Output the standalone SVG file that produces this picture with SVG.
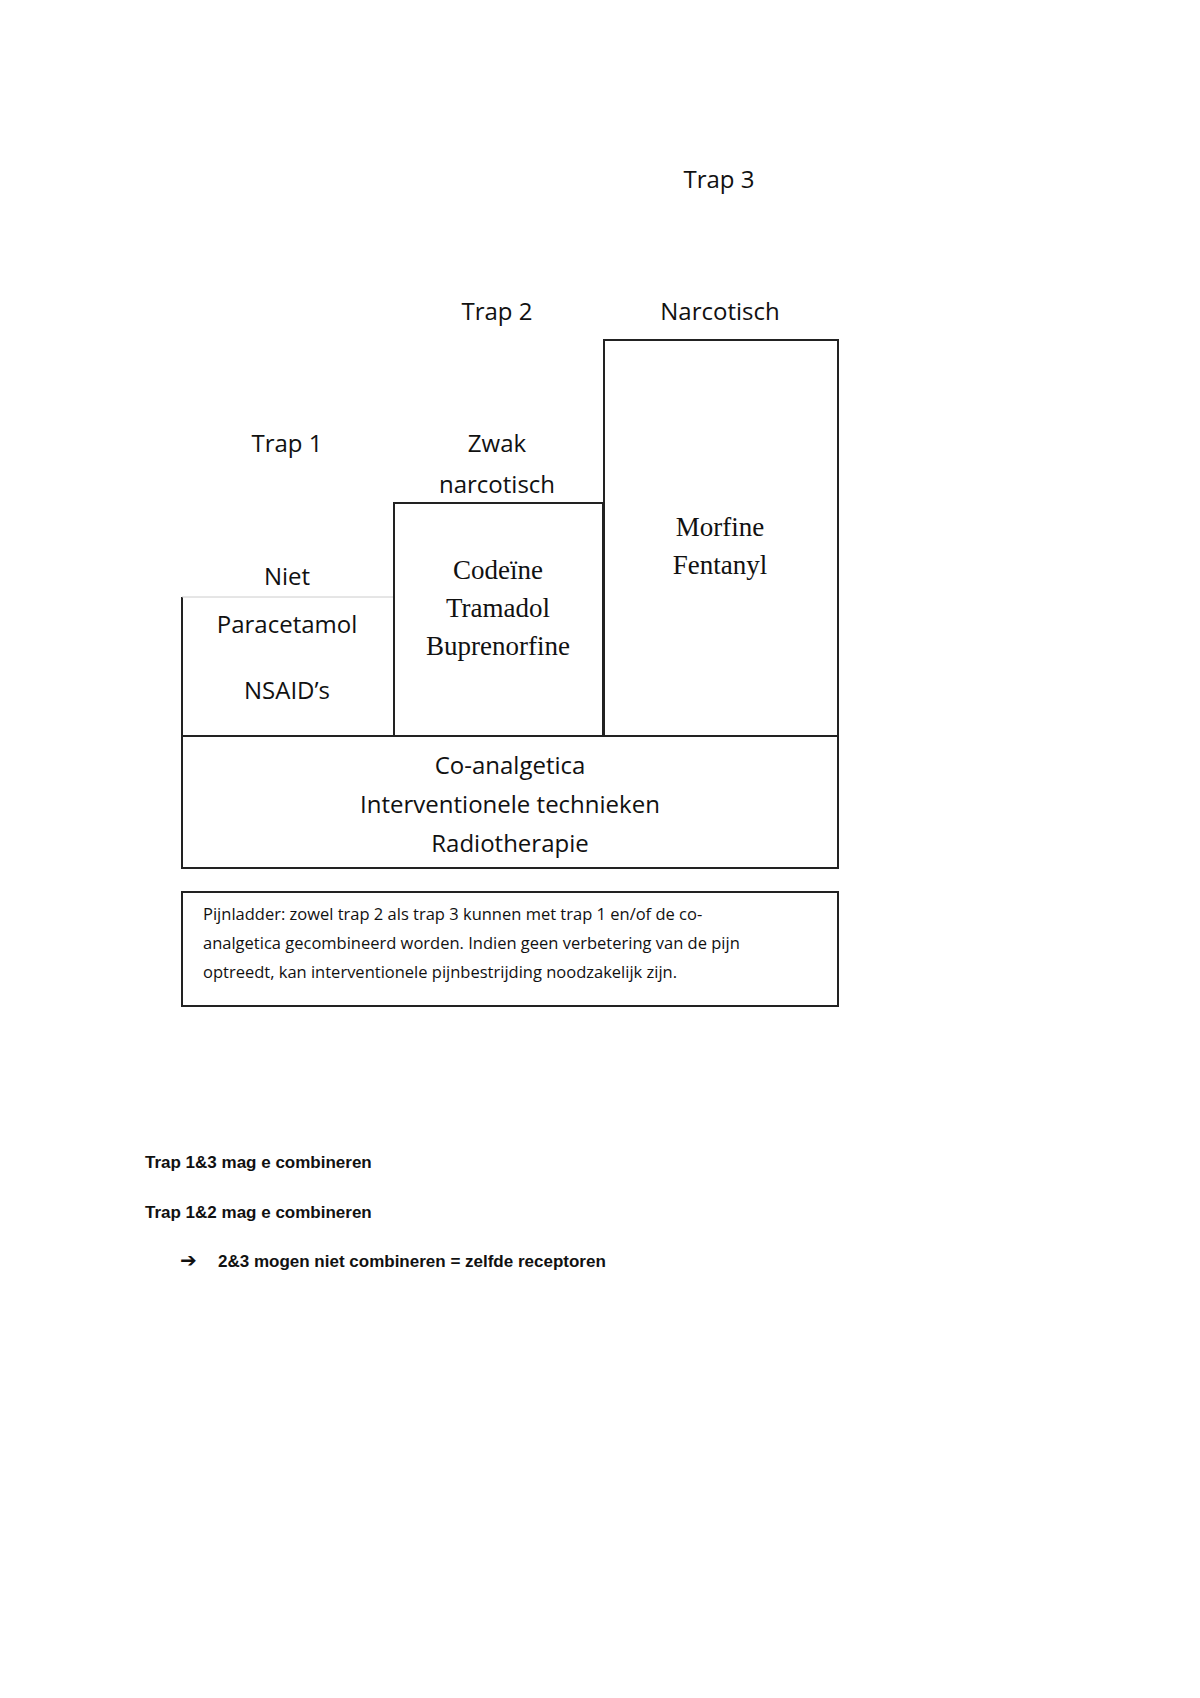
<svg xmlns="http://www.w3.org/2000/svg" width="1200" height="1698" viewBox="0 0 1200 1698">
<style>
.s{font-family:"Open Sans","Liberation Sans",sans-serif;font-size:24px;fill:#111;text-anchor:middle}
.r{font-family:"Liberation Serif",serif;font-size:27px;fill:#111;text-anchor:middle}
.p{font-family:"Open Sans","Liberation Sans",sans-serif;font-size:16.5px;fill:#111}
.b{font-family:"Liberation Sans",sans-serif;font-size:17px;font-weight:bold;fill:#111}
.bx{fill:none;stroke:#222;stroke-width:2}
</style>
<rect width="1200" height="1698" fill="#fff"/>
<text class="s" x="719" y="188">Trap 3</text>
<text class="s" x="497" y="320">Trap 2</text>
<text class="s" x="720" y="320">Narcotisch</text>
<text class="s" x="287" y="452">Trap 1</text>
<text class="s" x="497" y="452">Zwak</text>
<text class="s" x="497" y="493">narcotisch</text>
<text class="s" x="287" y="585">Niet</text>
<g id="trap1"><path class="bx" d="M182,597 V736 H394 V597"/><line x1="182" y1="597" x2="394" y2="597" stroke="#ccc" stroke-width="1"/>
<text class="s" x="287" y="633">Paracetamol</text><text class="s" x="287" y="699">NSAID’s</text></g>
<g id="trap2"><rect class="bx" x="394" y="503" width="209" height="233"/>
<text class="r" x="498" y="579">Codeïne</text><text class="r" x="498" y="617">Tramadol</text><text class="r" x="498" y="655">Buprenorfine</text></g>
<g id="trap3"><rect class="bx" x="604" y="340" width="234" height="396"/>
<text class="r" x="720" y="536">Morfine</text><text class="r" x="720" y="574">Fentanyl</text></g>
<g id="co"><rect class="bx" x="182" y="736" width="656" height="132"/>
<text class="s" x="510" y="774">Co-analgetica</text><text class="s" x="510" y="813">Interventionele technieken</text><text class="s" x="510" y="852">Radiotherapie</text></g>
<g id="note"><rect class="bx" x="182" y="892" width="656" height="114"/>
<text class="p" x="203" y="920">Pijnladder: zowel trap 2 als trap 3 kunnen met trap 1 en/of de co-</text>
<text class="p" x="203" y="949">analgetica gecombineerd worden. Indien geen verbetering van de pijn</text>
<text class="p" x="203" y="978">optreedt, kan interventionele pijnbestrijding noodzakelijk zijn.</text></g>
<g id="connectors"></g>
<text class="b" x="145" y="1168">Trap 1&amp;3 mag e combineren</text>
<text class="b" x="145" y="1218">Trap 1&amp;2 mag e combineren</text>
<text x="180" y="1267" style="font-family:'DejaVu Sans',sans-serif;font-size:20px;fill:#111">➔</text>
<text class="b" x="218" y="1267">2&amp;3 mogen niet combineren = zelfde receptoren</text>
</svg>
